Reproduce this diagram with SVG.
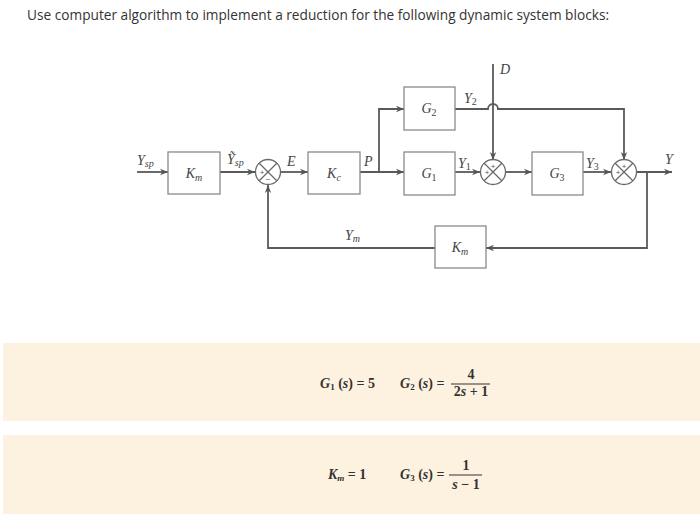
<svg xmlns="http://www.w3.org/2000/svg" width="700" height="514" viewBox="0 0 700 514">
<defs>
<marker id="ar" viewBox="0 0 10 10" refX="10" refY="5" markerWidth="8" markerHeight="8" markerUnits="userSpaceOnUse" orient="auto">
<path d="M0,1 L10,5 L0,9 L3,5 Z" fill="#555"/>
</marker>
</defs>
<style>
.box{fill:#fff;stroke:#8a8a8a;stroke-width:1.3}
.ln{fill:none;stroke:#5a5a5a;stroke-width:1.8}
.sj{fill:#fff;stroke:#6a6a6a;stroke-width:1.3}
.t{font-family:"Liberation Serif",serif;font-style:italic;fill:#444;font-size:14px}
.c{text-anchor:middle}
.s{font-size:10px}
.pm{font-family:"Liberation Sans",sans-serif;font-size:8px;fill:#555;text-anchor:middle}
.eq{font-family:"Liberation Serif",serif;fill:#333;font-size:14px;font-weight:bold}
.band{fill:#fdf1e0}
</style>
<rect width="700" height="514" fill="#fff"/>
<text x="27" y="20" font-family="Open Sans, Liberation Sans, sans-serif" font-size="15" fill="#333" textLength="582" lengthAdjust="spacingAndGlyphs">Use computer algorithm to implement a reduction for the following dynamic system blocks:</text>

<g id="connectors">
<path class="ln" d="M137,172 H168" marker-end="url(#ar)"/>
<path class="ln" d="M220,172 H255" marker-end="url(#ar)"/>
<path class="ln" d="M281,172 H308" marker-end="url(#ar)"/>
<path class="ln" d="M360,172 H404" marker-end="url(#ar)"/>
<path class="ln" d="M379,172 V109 H404" marker-end="url(#ar)"/>
<path class="ln" d="M455,172 H480" marker-end="url(#ar)"/>
<path class="ln" d="M493,64 V160" marker-end="url(#ar)"/>
<path class="ln" d="M455,109 H488 A5,5 0 0 1 498,109 H624 V160" marker-end="url(#ar)"/>
<path class="ln" d="M506,172 H532" marker-end="url(#ar)"/>
<path class="ln" d="M583,172 H611" marker-end="url(#ar)"/>
<path class="ln" d="M637,172 H672" marker-end="url(#ar)"/>
<path class="ln" d="M647,172 V248 H486" marker-end="url(#ar)"/>
<path class="ln" d="M435,248 H268 V185" marker-end="url(#ar)"/>
</g>

<g id="Km1"><rect class="box" x="168" y="152" width="52" height="42"/><text class="t c" x="194" y="178">K<tspan class="s" dy="3">m</tspan></text></g>
<g id="Kc"><rect class="box" x="308" y="152" width="52" height="42"/><text class="t c" x="334" y="178">K<tspan class="s" dy="3">c</tspan></text></g>
<g id="G2"><rect class="box" x="404" y="87" width="51" height="43"/><text class="t c" x="429" y="113">G<tspan class="s" dy="3" font-style="normal">2</tspan></text></g>
<g id="G1"><rect class="box" x="404" y="152" width="51" height="43"/><text class="t c" x="429" y="178">G<tspan class="s" dy="3" font-style="normal">1</tspan></text></g>
<g id="G3"><rect class="box" x="532" y="152" width="51" height="43"/><text class="t c" x="557" y="178">G<tspan class="s" dy="3" font-style="normal">3</tspan></text></g>
<g id="Km2"><rect class="box" x="435" y="226" width="51" height="42"/><text class="t c" x="460" y="252">K<tspan class="s" dy="3">m</tspan></text></g>

<g id="sum1"><circle class="sj" cx="268" cy="172" r="12.5"/><path class="sj" d="M259.2,163.2 L276.8,180.8 M276.8,163.2 L259.2,180.8"/><text class="pm" x="262" y="175">+</text><text class="pm" x="268" y="182">−</text></g>
<g id="sum2"><circle class="sj" cx="493" cy="172" r="12.5"/><path class="sj" d="M484.2,163.2 L501.8,180.8 M501.8,163.2 L484.2,180.8"/><text class="pm" x="493" y="169">+</text><text class="pm" x="487" y="175">+</text></g>
<g id="sum3"><circle class="sj" cx="624" cy="172" r="12.5"/><path class="sj" d="M615.2,163.2 L632.8,180.8 M632.8,163.2 L615.2,180.8"/><text class="pm" x="624" y="169">+</text><text class="pm" x="618" y="175">+</text></g>

<g id="labels">
<text class="t" x="137" y="165" font-size="13">Y<tspan class="s" dy="2">sp</tspan></text>
<text class="t" x="227" y="164" font-size="13">Ỹ<tspan class="s" dy="2">sp</tspan></text>
<text class="t" x="287" y="166" font-size="13">E</text>
<text class="t" x="364" y="166" font-size="13">P</text>
<text class="t" x="464" y="103" font-size="13">Y<tspan class="s" dy="2" font-style="normal">2</tspan></text>
<text class="t" x="458" y="168" font-size="13">Y<tspan class="s" dy="2" font-style="normal">1</tspan></text>
<text class="t" x="500" y="74" font-size="12">D</text>
<text class="t" x="586" y="168" font-size="13">Y<tspan class="s" dy="2" font-style="normal">3</tspan></text>
<text class="t" x="665" y="164" font-size="13">Y</text>
<text class="t" x="345" y="240" font-size="13">Y<tspan class="s" dy="2">m</tspan></text>
</g>

<rect class="band" x="3" y="343" width="697" height="78"/>
<rect class="band" x="3" y="435" width="697" height="79"/>

<g id="eq1">
<text class="eq" x="320" y="388"><tspan font-style="italic">G</tspan><tspan font-size="9" dy="2">1</tspan><tspan dy="-2"> (</tspan><tspan font-style="italic">s</tspan>) = 5</text>
<text class="eq" x="400" y="388"><tspan font-style="italic">G</tspan><tspan font-size="9" dy="2">2</tspan><tspan dy="-2"> (</tspan><tspan font-style="italic">s</tspan>) =</text>
<text class="eq" x="471" y="379" text-anchor="middle" font-size="12">4</text>
<line x1="451" y1="384" x2="490" y2="384" stroke="#333" stroke-width="1.2"/>
<text class="eq" x="471" y="396" text-anchor="middle" font-size="13">2<tspan font-style="italic">s</tspan> + 1</text>
</g>
<g id="eq2">
<text class="eq" x="328" y="479"><tspan font-style="italic">K</tspan><tspan font-size="9" dy="2" font-style="italic">m</tspan><tspan dy="-2"> = 1</tspan></text>
<text class="eq" x="400" y="479"><tspan font-style="italic">G</tspan><tspan font-size="9" dy="2">3</tspan><tspan dy="-2"> (</tspan><tspan font-style="italic">s</tspan>) =</text>
<text class="eq" x="466" y="470" text-anchor="middle" font-size="12">1</text>
<line x1="449" y1="475" x2="482" y2="475" stroke="#333" stroke-width="1.2"/>
<text class="eq" x="466" y="489" text-anchor="middle" font-size="13"><tspan font-style="italic">s</tspan> − 1</text>
</g>
</svg>
